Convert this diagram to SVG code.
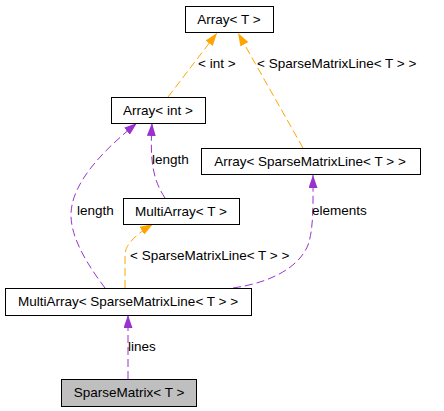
<svg xmlns="http://www.w3.org/2000/svg" width="444" height="411" viewBox="0 0 444 411">
<style>
  .box { fill: #ffffff; stroke: #000000; stroke-width: 1; }
  .cur { fill: #bfbfbf; stroke: #000000; stroke-width: 1; }
  text { font-family: "Liberation Sans", Arial, sans-serif; font-size: 13.5px; fill: #000000; }
  .nt { text-anchor: middle; }
  .inh { fill: none; stroke: #ffa500; stroke-width: 1; stroke-dasharray: 8,4; }
  .use { fill: none; stroke: #9a32cd; stroke-width: 1; stroke-dasharray: 8,4; }
</style>
<defs>
  <marker id="ao" viewBox="0 0 13 9" refX="13" refY="4.5" markerWidth="13" markerHeight="9" markerUnits="userSpaceOnUse" orient="auto">
    <path d="M0,0 L13,4.5 L0,9 z" fill="#ffa500"/>
  </marker>
  <marker id="ap" viewBox="0 0 13 9" refX="13" refY="4.5" markerWidth="13" markerHeight="9" markerUnits="userSpaceOnUse" orient="auto">
    <path d="M0,0 L13,4.5 L0,9 z" fill="#9a32cd"/>
  </marker>
</defs>
<rect width="444" height="411" fill="#ffffff"/>
<g id="edges">
  <path class="inh" d="M168,97 L217,33" marker-end="url(#ao)"/>
  <text x="198" y="68">&lt; int &gt;</text>
  <path class="inh" d="M303,148 L238,33" marker-end="url(#ao)"/>
  <text x="257" y="68">&lt; SparseMatrixLine&lt; T &gt; &gt;</text>
  <path class="use" d="M105,288 C90,268 71,240 71,215 C71,180 110,145 137,123" marker-end="url(#ap)"/>
  <text x="77" y="215">length</text>
  <path class="use" d="M165,198 C152,178 150,160 152,123" marker-end="url(#ap)"/>
  <text x="152" y="164">length</text>
  <path class="inh" d="M125,288 L125,255 C125,245 135,235 153,224" marker-end="url(#ao)"/>
  <text x="130" y="260">&lt; SparseMatrixLine&lt; T &gt; &gt;</text>
  <path class="use" d="M233,288 C275,282 300,265 308,245 C314,228 313,200 313,175" marker-end="url(#ap)"/>
  <text x="312" y="215">elements</text>
  <path class="use" d="M128,379 L128,315" marker-end="url(#ap)"/>
  <text x="128" y="351">lines</text>
</g>
<g id="node-array-t">
  <rect class="box" x="185.5" y="6.5" width="88" height="26"/>
  <text class="nt" x="229" y="24">Array&lt; T &gt;</text>
</g>
<g id="node-array-int">
  <rect class="box" x="111.5" y="97.5" width="94" height="26"/>
  <text class="nt" x="158" y="115">Array&lt; int &gt;</text>
</g>
<g id="node-array-sml">
  <rect class="box" x="201.5" y="148.5" width="219" height="26"/>
  <text class="nt" x="310" y="166">Array&lt; SparseMatrixLine&lt; T &gt; &gt;</text>
</g>
<g id="node-multiarray-t">
  <rect class="box" x="123.5" y="198.5" width="116" height="26"/>
  <text class="nt" x="181" y="216">MultiArray&lt; T &gt;</text>
</g>
<g id="node-multiarray-sml">
  <rect class="box" x="5.5" y="288.5" width="246" height="27"/>
  <text class="nt" x="128" y="306">MultiArray&lt; SparseMatrixLine&lt; T &gt; &gt;</text>
</g>
<g id="node-sparsematrix">
  <rect class="cur" x="61.5" y="379.5" width="135" height="27"/>
  <text class="nt" x="129" y="397">SparseMatrix&lt; T &gt;</text>
</g>
</svg>
